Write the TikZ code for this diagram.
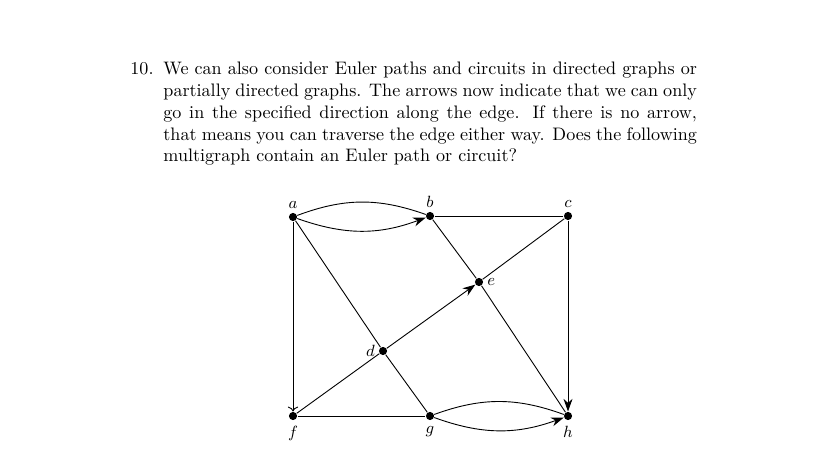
\documentclass[tikz,border=0pt]{standalone}
\usetikzlibrary{arrows.meta}
\begin{document}
\begin{tikzpicture}[x=0.553pt,y=-0.553pt,
  dot/.style={circle,fill,inner sep=0pt,minimum size=4.5pt},
  lbl/.style={font=\small},
  arr/.style={-{Stealth[length=7pt,width=5pt]}},
  every path/.style={line width=0.5pt}]
\useasboundingbox (0,0) rectangle (813,457);
\node[anchor=north west,inner sep=0pt] (num) at (130,62) {10.};
\node[anchor=north west,inner sep=0pt,text width=295pt,align=justify] (txt) at (163,62)
 {We can also consider Euler paths and circuits in directed graphs or partially directed graphs. The arrows now indicate that we can only go in the specified direction along the edge. If there is no arrow, that means you can traverse the edge either way. Does the following multigraph contain an Euler path or circuit?};
\node[dot] (a) at (293,217) {};
\node[dot] (b) at (430,216) {};
\node[dot] (c) at (568,216) {};
\node[dot] (e) at (479,282) {};
\node[dot] (d) at (383,351) {};
\node[dot] (f) at (293,416) {};
\node[dot] (g) at (430,416) {};
\node[dot] (h) at (568,416) {};
\node[lbl,above=1pt] at (a) {$a$};
\node[lbl,above=1pt] at (b) {$b$};
\node[lbl,above=1pt] at (c) {$c$};
\node[lbl,right=1pt] at (e) {$e$};
\node[lbl,left=1pt] at (d) {$d$};
\node[lbl,below=2pt] at (f) {$f$};
\node[lbl,below=2pt] at (g) {$g$};
\node[lbl,below=2pt] at (h) {$h$};
\draw (a) to[bend left=20] (b);
\draw[arr] (a) to[bend right=20] (b);
\draw (b) -- (c);
\draw[->] (a) -- (f);
\draw (a) -- (d) -- (g);
\draw (f) -- (d);
\draw[arr] (d) -- (e);
\draw (e) -- (c);
\draw (b) -- (e) -- (h);
\draw[arr] (c) -- (h);
\draw (f) -- (g);
\draw (g) to[bend left=20] (h);
\draw[arr] (g) to[bend right=20] (h);
\end{tikzpicture}
\end{document}
